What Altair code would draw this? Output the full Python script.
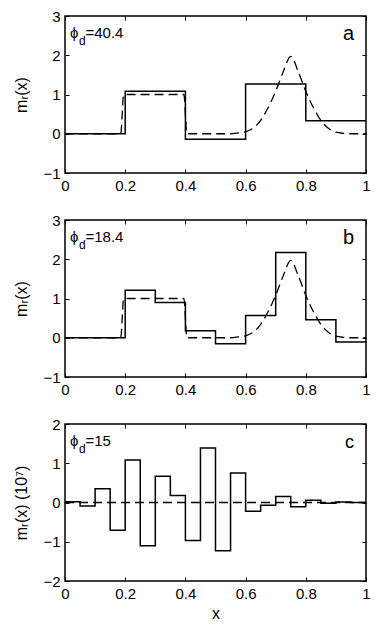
import altair as alt
import pandas as pd

# ---------------- data ----------------
x_ticks = [0, 0.2, 0.4, 0.6, 0.8, 1.0]

# true model (dashed)
true_x = [0.0, 0.185, 0.195, 0.395, 0.405, 0.55, 0.575, 0.6, 0.625, 0.65, 0.675, 0.7,
          0.725, 0.75, 0.775, 0.8, 0.825, 0.85, 0.875, 0.9, 0.925, 0.95, 1.0]
true_y = [0.0, 0.0, 1.0, 1.0, 0.0, 0.0, 0.02, 0.05, 0.14, 0.34, 0.67, 1.08,
          1.58, 1.97, 1.58, 1.08, 0.67, 0.34, 0.14, 0.04, 0.01, 0.0, 0.0]

# panel a: 5 cells
edges_a = [0.0, 0.2, 0.4, 0.6, 0.8, 1.0]
vals_a = [0.0, 1.08, -0.14, 1.27, 0.33]

# panel b: 10 cells
edges_b = [0.0, 0.1, 0.2, 0.3, 0.4, 0.5, 0.6, 0.7, 0.8, 0.9, 1.0]
vals_b = [0.0, 0.0, 1.21, 0.9, 0.18, -0.15, 0.57, 2.17, 0.46, -0.11]

# panel c: 20 cells (units of 10^7)
edges_c = [0.0, 0.05, 0.1, 0.15, 0.2, 0.25, 0.3, 0.35, 0.4, 0.45, 0.5,
           0.55, 0.6, 0.65, 0.7, 0.75, 0.8, 0.85, 0.9, 0.95, 1.0]
vals_c = [0.02, -0.09, 0.35, -0.71, 1.08, -1.1, 0.67, 0.18, -0.97, 1.39,
          -1.23, 0.75, -0.22, -0.07, 0.15, -0.11, 0.06, -0.02, 0.01, 0.0]
zero_x = [0.0, 1.0]
zero_y = [0.0, 0.0]

W, H = 301, 157
FONT = "Liberation Sans"


def panel(edges, vals, tx, ty, ydom, yticks, ytitle, xtitle, letter, phi, letter_size):
    step_df = pd.DataFrame({"x": edges, "y": vals + [vals[-1]]})
    true_df = pd.DataFrame({"x": tx, "y": ty})
    xs = alt.Scale(domain=[0, 1], nice=False, zero=False)
    ys = alt.Scale(domain=ydom, nice=False, zero=False)
    xaxis = alt.Axis(values=x_ticks, format="~g", ticks=False, domain=False,
                     grid=True, gridColor="black", gridWidth=1, gridOpacity=1,
                     gridDash=[4, H - 8, 4, 400], labelFlush=False, labelOverlap=False,
                     labelPadding=5, title=xtitle, titlePadding=4)
    yaxis = alt.Axis(values=yticks, format="d", ticks=False, domain=False,
                     grid=True, gridColor="black", gridWidth=1, gridOpacity=1,
                     gridDash=[4, W - 8, 4, 600], labelPadding=5, labelOverlap=False,
                     title=ytitle, titlePadding=13)
    dashed = alt.Chart(true_df).mark_line(
        color="black", strokeWidth=1.3, strokeDash=[9, 5], interpolate="monotone"
    ).encode(x=alt.X("x:Q", scale=xs, axis=xaxis), y=alt.Y("y:Q", scale=ys, axis=yaxis))
    solid = alt.Chart(step_df).mark_line(
        color="black", strokeWidth=1.5, interpolate="step-after"
    ).encode(x=alt.X("x:Q", scale=xs, axis=xaxis), y=alt.Y("y:Q", scale=ys, axis=yaxis))

    lab_df = pd.DataFrame({"t": [letter]})
    let = alt.Chart(lab_df).mark_text(
        font=FONT, fontSize=letter_size, align="right", baseline="alphabetic", color="black"
    ).encode(x=alt.value(W - 12), y=alt.value(24), text="t:N")
    phi_df = pd.DataFrame({"t": ["\u03d5"]})
    sub_df = pd.DataFrame({"t": ["d"]})
    val_df = pd.DataFrame({"t": ["=" + phi]})
    p1 = alt.Chart(phi_df).mark_text(
        font=FONT, fontSize=15, align="left", baseline="alphabetic", color="black"
    ).encode(x=alt.value(5), y=alt.value(22), text="t:N")
    p2 = alt.Chart(sub_df).mark_text(
        font=FONT, fontSize=12, align="left", baseline="alphabetic", color="black"
    ).encode(x=alt.value(14), y=alt.value(29), text="t:N")
    p3 = alt.Chart(val_df).mark_text(
        font=FONT, fontSize=15, align="left", baseline="alphabetic", color="black"
    ).encode(x=alt.value(20.5), y=alt.value(22), text="t:N")
    return alt.layer(dashed, solid, let, p1, p2, p3).properties(width=W, height=H)


pa = panel(edges_a, vals_a, true_x, true_y, [-1, 3], [-1, 0, 1, 2, 3],
           "m\u1d63(x)", None, "a", "40.4", 20)
pb = panel(edges_b, vals_b, true_x, true_y, [-1, 3], [-1, 0, 1, 2, 3],
           "m\u1d63(x)", None, "b", "18.4", 20)
pc = panel(edges_c, vals_c, zero_x, zero_y, [-2, 2], [-2, -1, 0, 1, 2],
           "m\u1d63(x) (10\u2077)", "x", "c", "15", 18)

chart = alt.vconcat(pa, pb, pc, spacing=18).properties(
    padding={"left": 5, "top": 0, "right": 0, "bottom": 0},
    background="white"
).configure_view(
    stroke="black", strokeWidth=1.5
).configure_axis(
    labelFont=FONT, labelFontSize=15, labelColor="black",
    titleFont=FONT, titleFontSize=16, titleColor="black", titleFontWeight="normal"
)

chart.save("out.html", embed_options={"renderer": "svg", "actions": False})
